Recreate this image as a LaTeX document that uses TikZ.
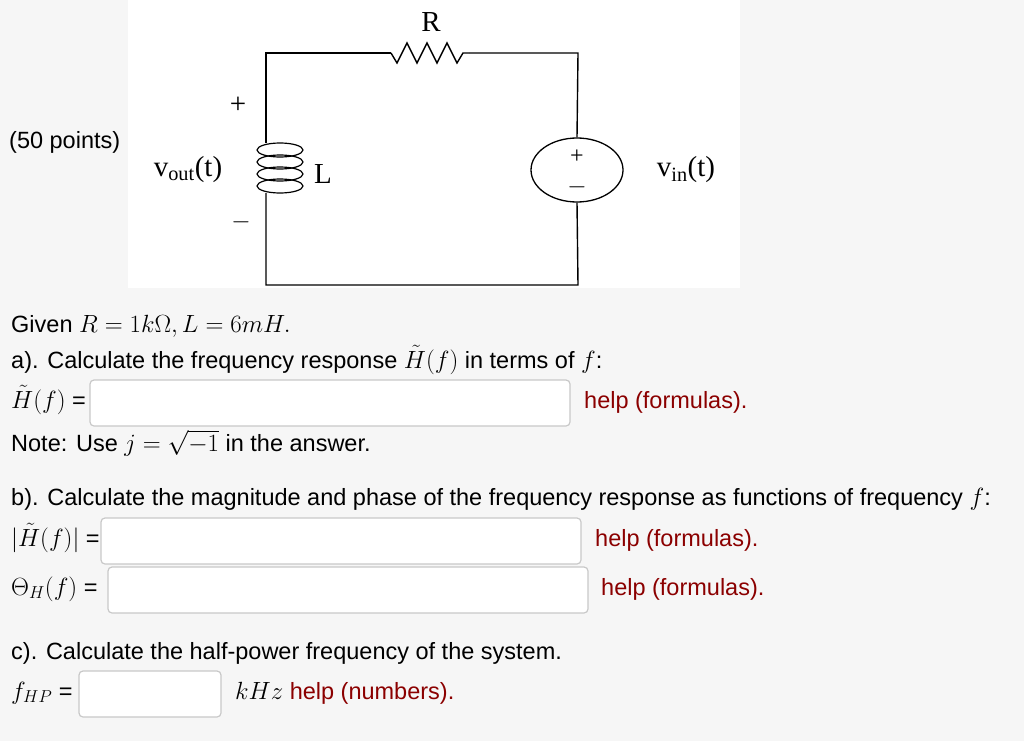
\documentclass[tikz,border=0pt]{standalone}
\usepackage{fontspec}
\setmainfont{Liberation Sans}
\newfontfamily\cserif{Liberation Serif}
\usetikzlibrary{shapes.geometric}
\definecolor{bg}{HTML}{F6F6F6}
\definecolor{helpc}{HTML}{8B0000}
\definecolor{boxb}{HTML}{C8C8C8}
\begin{document}
\begin{tikzpicture}[x=1pt,y=-1pt,
  txt/.style={anchor=base west,inner sep=0,font=\fontsize{23.5}{26}\selectfont},
  ctxt/.style={inner sep=0,font=\fontsize{29}{31}\cserif},
  ansbox/.style={draw=boxb,line width=1.2pt,rounded corners=4pt,fill=white},
  wire/.style={line width=1.4pt}]
\fill[bg] (0,0) rectangle (1024,741);
\useasboundingbox (0,0) rectangle (1024,741);
\fill[white] (128,0) rectangle (740,288);
% circuit
\coordinate (tl) at (266,53); \coordinate (tr) at (578,53);
\coordinate (bl) at (266,285); \coordinate (br) at (578,285);
\coordinate (r1) at (391,53); \coordinate (r2) at (469,53);
\coordinate (l1) at (266,143); \coordinate (l2) at (266,193);
\node[draw,line width=1.3pt,ellipse,minimum width=92,minimum height=64,inner sep=0] (src) at (577,170) {};
\draw[wire] (l1) -- (tl) -- (r1);
\draw[wire] (r1) -- ++(6,10) -- ++(10,-20) -- ++(10,20) -- ++(10,-20) -- ++(10,20) -- ++(10,-20) -- ++(10,20) -- ++(6,-10) -- (r2);
\draw[wire] (r2) -- (tr) -- (src.north);
\draw[wire] (src.south) -- (br) -- (bl) -- (l2);
\foreach \yy in {150,162,174,186}
  \draw[line width=1.2pt] (280,\yy) ellipse [x radius=23, y radius=7];
\node[ctxt] (rl) at (431,22) {R};
\node[ctxt] (ll) at (323,174) {L};
\node[ctxt] (vout) at (188,170) {v\textsubscript{out}(t)};
\node[ctxt] (vin) at (686,170) {v\textsubscript{in}(t)};
\node[ctxt] (pl) at (238,105) {+};
\node[ctxt] (mi) at (241,222) {$-$};
\node[inner sep=0,font=\fontsize{24}{26}\cserif] (sp) at (577,157) {+};
\node[inner sep=0,font=\fontsize{24}{26}\selectfont] (sm) at (577,187) {$-$};
\node[txt] (pts) at (9,148) {(50 points)};
% text
\node[txt] (g) at (11,332) {Given $R = 1k\Omega, L = 6mH.$};
\node[txt] (a) at (11,368) {a). Calculate the frequency response $\tilde H(f)$ in terms of $f$:};
\node[txt] (ha) at (11,408) {$\tilde H(f)$ =};
\node[ansbox] (b1) at (330,403) [minimum width=480,minimum height=46] {};
\node[txt,text=helpc] (h1) at (584,408) {help (formulas).};
\node[txt] (n) at (11,451) {Note: Use $j = \sqrt{-1}$ in the answer.};
\node[txt] (b) at (11,505) {b). Calculate the magnitude and phase of the frequency response as functions of frequency $f$:};
\node[txt] (hb) at (11,546) {$|\tilde H(f)|$ =};
\node[ansbox] (b2) at (341,541) [minimum width=480,minimum height=46] {};
\node[txt,text=helpc] (h2) at (595,546) {help (formulas).};
\node[txt] (th) at (11,595) {$\Theta_H(f)$ =};
\node[ansbox] (b3) at (348,590) [minimum width=480,minimum height=46] {};
\node[txt,text=helpc] (h3) at (601,595) {help (formulas).};
\node[txt] (c) at (11,659) {c). Calculate the half-power frequency of the system.};
\node[txt] (fh) at (11,699) {$f_{HP}$ =};
\node[ansbox] (b4) at (150,694) [minimum width=142,minimum height=46] {};
\node[txt] (kh) at (235,699) {$kHz$ \textcolor{helpc}{help (numbers).}};
\end{tikzpicture}
\end{document}
